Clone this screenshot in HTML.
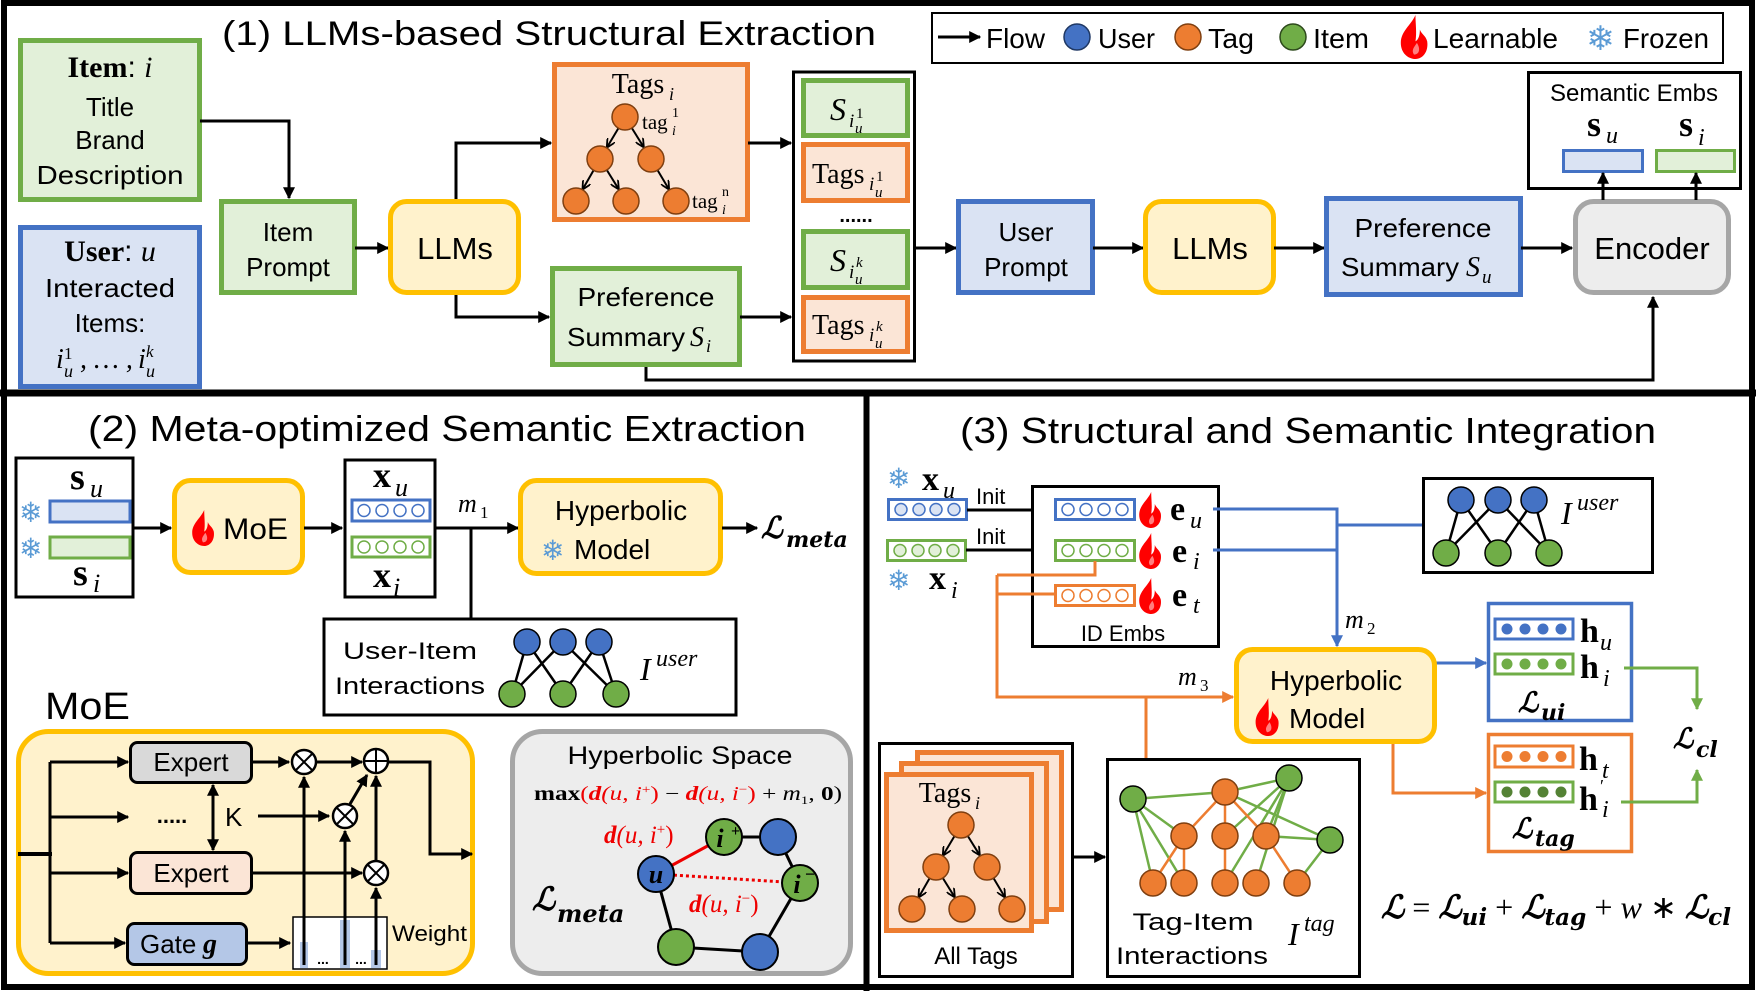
<!DOCTYPE html>
<html><head><meta charset="utf-8"><style>
html,body{margin:0;padding:0;background:#fff;}
svg{display:block;}
.s{font-family:"Liberation Sans",sans-serif;fill:#000;}
.m{font-family:"Liberation Serif",serif;font-style:italic;fill:#000;}
.mb{font-family:"Liberation Serif",serif;font-weight:bold;fill:#000;}
.L{font-family:"DejaVu Serif","Liberation Serif",serif;font-style:italic;font-weight:bold;fill:#000;}
.sn{font-family:"DejaVu Sans",sans-serif;fill:#5b9bd5;}
</style></head><body>
<svg width="1756" height="991" viewBox="0 0 1756 991" xmlns="http://www.w3.org/2000/svg">
<defs>
<marker id="ak" viewBox="0 0 10 10" refX="9" refY="5" markerWidth="12" markerHeight="12" markerUnits="userSpaceOnUse" orient="auto-start-reverse"><path d="M0,0L10,5L0,10z" fill="#000"/></marker>
<marker id="as" viewBox="0 0 10 10" refX="9" refY="5" markerWidth="9" markerHeight="9" markerUnits="userSpaceOnUse" orient="auto"><path d="M0,0L10,5L0,10" fill="none" stroke="#000" stroke-width="2"/></marker>
<marker id="ab" viewBox="0 0 10 10" refX="9" refY="5" markerWidth="12" markerHeight="12" markerUnits="userSpaceOnUse" orient="auto"><path d="M0,0L10,5L0,10z" fill="#4472c4"/></marker>
<marker id="ao" viewBox="0 0 10 10" refX="9" refY="5" markerWidth="12" markerHeight="12" markerUnits="userSpaceOnUse" orient="auto"><path d="M0,0L10,5L0,10z" fill="#ed7d31"/></marker>
<marker id="ag" viewBox="0 0 10 10" refX="9" refY="5" markerWidth="12" markerHeight="12" markerUnits="userSpaceOnUse" orient="auto"><path d="M0,0L10,5L0,10z" fill="#70ad47"/></marker>
<symbol id="fire" viewBox="-10 -15 20 30"><path d="M1,-15 C-2,-8 -9,-4 -9,4 C-9,11 -4,15 1,15 C6,15 10,10 9,3 C8,-1 5,-2 4,-5 C4,-1 3,2 1,3 C2,-3 1,-9 1,-15Z" fill="#ff0000"/><path d="M2,4 C0,7 -2,9 0,12 C3,12 5,9 2,4Z" fill="#fff" opacity="0.5"/></symbol>
<g id="tree">
 <g stroke="#000" stroke-width="2" fill="none" marker-end="url(#as)">
  <line x1="-6.6" y1="11.2" x2="-17.8" y2="30"/>
  <line x1="6.8" y1="11" x2="18.4" y2="29.7"/>
  <line x1="-31.4" y1="53.3" x2="-42.1" y2="71.9"/>
  <line x1="-18.2" y1="53" x2="-6.6" y2="71.7"/>
  <line x1="32.6" y1="53.2" x2="43.7" y2="71.9"/>
 </g>
 <g fill="#ed7d31" stroke="#7f3f10" stroke-width="1.5">
  <circle cx="0" cy="0" r="13"/><circle cx="-25" cy="42" r="13"/><circle cx="26" cy="42" r="13"/>
  <circle cx="-49" cy="84" r="13"/><circle cx="1" cy="84" r="13"/><circle cx="51" cy="84" r="13"/>
 </g>
</g>
</defs>

<rect x="4" y="3" width="1748" height="984" fill="#fff" stroke="#000" stroke-width="6"/>
<line x1="0" y1="393" x2="1756" y2="393" stroke="#000" stroke-width="7"/>
<line x1="866.5" y1="393" x2="866.5" y2="991" stroke="#000" stroke-width="6"/>

<!-- ============ PANEL 1 ============ -->
<text class="s" x="222" y="45" font-size="34" textLength="654" lengthAdjust="spacingAndGlyphs">(1) LLMs-based Structural Extraction</text>

<rect x="932" y="13" width="791" height="50" fill="#fff" stroke="#000" stroke-width="2"/>
<line x1="938" y1="37" x2="980" y2="37" stroke="#000" stroke-width="3" marker-end="url(#ak)"/>
<text class="s" x="986" y="48" font-size="28" textLength="59" lengthAdjust="spacingAndGlyphs">Flow</text>
<circle cx="1077" cy="37" r="13" fill="#4472c4" stroke="#1f3864" stroke-width="1.5"/>
<text class="s" x="1098" y="48" font-size="28" textLength="57" lengthAdjust="spacingAndGlyphs">User</text>
<circle cx="1188" cy="37" r="13" fill="#ed7d31" stroke="#7f3f10" stroke-width="1.5"/>
<text class="s" x="1208" y="48" font-size="28" textLength="46" lengthAdjust="spacingAndGlyphs">Tag</text>
<circle cx="1293" cy="37" r="13" fill="#70ad47" stroke="#2d4a1c" stroke-width="1.5"/>
<text class="s" x="1313" y="48" font-size="28" textLength="56" lengthAdjust="spacingAndGlyphs">Item</text>
<use href="#fire" x="1399" y="15" width="30" height="44"/>
<text class="s" x="1433" y="48" font-size="28" textLength="125" lengthAdjust="spacingAndGlyphs">Learnable</text>
<text class="sn" x="1586" y="50" font-size="34">❄</text>
<text class="s" x="1623" y="48" font-size="28" textLength="86" lengthAdjust="spacingAndGlyphs">Frozen</text>

<rect x="20.5" y="40.5" width="179" height="159" fill="#e2f0d9" stroke="#70ad47" stroke-width="5"/>
<text x="110" y="77" text-anchor="middle" font-size="30"><tspan class="mb">Item</tspan><tspan class="s">:  </tspan><tspan class="m">i</tspan></text>
<text class="s" x="110" y="116" text-anchor="middle" font-size="26">Title</text>
<text class="s" x="110" y="149" text-anchor="middle" font-size="26">Brand</text>
<text class="s" x="110" y="184" text-anchor="middle" font-size="26" textLength="147" lengthAdjust="spacingAndGlyphs">Description</text>
<rect x="20.5" y="227.5" width="179" height="159" fill="#dae3f3" stroke="#4472c4" stroke-width="5"/>
<text x="110" y="261" text-anchor="middle" font-size="30"><tspan class="mb">User</tspan><tspan class="s">: </tspan><tspan class="m">u</tspan></text>
<text class="s" x="110" y="297" text-anchor="middle" font-size="26" textLength="130" lengthAdjust="spacingAndGlyphs">Interacted</text>
<text class="s" x="110" y="332" text-anchor="middle" font-size="26">Items:</text>
<text class="m" x="56" y="368" font-size="28">i</text><text class="m" x="64" y="359" font-size="17" style="font-style:normal">1</text><text class="m" x="64" y="377" font-size="18">u</text>
<text class="m" x="80" y="368" font-size="28">, … ,</text>
<text class="m" x="138" y="368" font-size="28">i</text><text class="m" x="146" y="357" font-size="17">k</text><text class="m" x="146" y="377" font-size="18">u</text>

<rect x="221.5" y="201.5" width="133" height="91" fill="#e2f0d9" stroke="#70ad47" stroke-width="5"/>
<text class="s" x="288" y="241" text-anchor="middle" font-size="26">Item</text>
<text class="s" x="288" y="276" text-anchor="middle" font-size="26">Prompt</text>
<polyline points="200,121 289,121 289,198" fill="none" stroke="#000" stroke-width="3" marker-end="url(#ak)"/>
<line x1="355" y1="248" x2="388" y2="248" stroke="#000" stroke-width="3" marker-end="url(#ak)"/>
<rect x="390.5" y="201.5" width="128" height="91" rx="16" fill="#fff2cc" stroke="#ffc000" stroke-width="5"/>
<text class="s" x="455" y="259" text-anchor="middle" font-size="31">LLMs</text>
<polyline points="456,199 456,143 551,143" fill="none" stroke="#000" stroke-width="3" marker-end="url(#ak)"/>
<polyline points="456,295 456,317 549,317" fill="none" stroke="#000" stroke-width="3" marker-end="url(#ak)"/>
<rect x="554.5" y="64.5" width="193" height="155" fill="#fbe5d6" stroke="#ed7d31" stroke-width="5"/>
<text class="m" x="638" y="93" text-anchor="middle" font-size="28" style="font-style:normal">Tags</text><text class="m" x="669" y="100" font-size="18">i</text>
<use href="#tree" x="625" y="117"/>
<text class="m" x="642" y="129" font-size="21" style="font-style:normal">tag</text><text class="m" x="672" y="135" font-size="14">i</text><text class="m" x="672" y="117" font-size="14" style="font-style:normal">1</text>
<text class="m" x="692" y="208" font-size="21" style="font-style:normal">tag</text><text class="m" x="722" y="214" font-size="14">i</text><text class="m" x="722" y="196" font-size="14" style="font-style:normal">n</text>
<rect x="552.5" y="268.5" width="187" height="96" fill="#e2f0d9" stroke="#70ad47" stroke-width="5"/>
<text class="s" x="646" y="306" text-anchor="middle" font-size="26" textLength="137" lengthAdjust="spacingAndGlyphs">Preference</text>
<text class="s" x="567" y="346" font-size="26" textLength="118" lengthAdjust="spacingAndGlyphs">Summary</text><text class="m" x="690" y="346" font-size="28">S</text><text class="m" x="706" y="352" font-size="18">i</text>
<line x1="748" y1="143" x2="791" y2="143" stroke="#000" stroke-width="3" marker-end="url(#ak)"/>
<line x1="740" y1="317" x2="791" y2="317" stroke="#000" stroke-width="3" marker-end="url(#ak)"/>
<rect x="793.5" y="72" width="121" height="289" fill="#fff" stroke="#000" stroke-width="3"/>
<rect x="803.5" y="80.5" width="104" height="55" fill="#e2f0d9" stroke="#70ad47" stroke-width="5"/>
<rect x="803.5" y="144.5" width="104" height="56" fill="#fbe5d6" stroke="#ed7d31" stroke-width="5"/>
<rect x="803.5" y="231.5" width="104" height="56" fill="#e2f0d9" stroke="#70ad47" stroke-width="5"/>
<rect x="803.5" y="297.5" width="104" height="54" fill="#fbe5d6" stroke="#ed7d31" stroke-width="5"/>
<text class="m" x="830" y="120" font-size="32">S</text><text class="m" x="849" y="127" font-size="19">i</text><text class="m" x="856" y="118" font-size="15" style="font-style:normal">1</text><text class="m" x="855" y="133" font-size="15">u</text>
<text class="m" x="812" y="183" font-size="28" style="font-style:normal">Tags</text><text class="m" x="869" y="190" font-size="19">i</text><text class="m" x="876" y="181" font-size="15" style="font-style:normal">1</text><text class="m" x="875" y="197" font-size="15">u</text>
<text class="s" x="856" y="222" text-anchor="middle" font-size="20" font-weight="bold">......</text>
<text class="m" x="830" y="271" font-size="32">S</text><text class="m" x="849" y="278" font-size="19">i</text><text class="m" x="856" y="267" font-size="15">k</text><text class="m" x="855" y="284" font-size="15">u</text>
<text class="m" x="812" y="334" font-size="28" style="font-style:normal">Tags</text><text class="m" x="869" y="341" font-size="19">i</text><text class="m" x="876" y="331" font-size="15">k</text><text class="m" x="875" y="348" font-size="15">u</text>
<line x1="915" y1="248" x2="956" y2="248" stroke="#000" stroke-width="3" marker-end="url(#ak)"/>
<rect x="958.5" y="201.5" width="134" height="91" fill="#dae3f3" stroke="#4472c4" stroke-width="5"/>
<text class="s" x="1026" y="241" text-anchor="middle" font-size="26">User</text>
<text class="s" x="1026" y="276" text-anchor="middle" font-size="26">Prompt</text>
<line x1="1093" y1="248" x2="1143" y2="248" stroke="#000" stroke-width="3" marker-end="url(#ak)"/>
<rect x="1145.5" y="201.5" width="128" height="91" rx="16" fill="#fff2cc" stroke="#ffc000" stroke-width="5"/>
<text class="s" x="1210" y="259" text-anchor="middle" font-size="31">LLMs</text>
<line x1="1274" y1="248" x2="1324" y2="248" stroke="#000" stroke-width="3" marker-end="url(#ak)"/>
<rect x="1326.5" y="198.5" width="194" height="96" fill="#dae3f3" stroke="#4472c4" stroke-width="5"/>
<text class="s" x="1423" y="237" text-anchor="middle" font-size="26" textLength="137" lengthAdjust="spacingAndGlyphs">Preference</text>
<text class="s" x="1341" y="276" font-size="26" textLength="118" lengthAdjust="spacingAndGlyphs">Summary</text><text class="m" x="1466" y="276" font-size="28">S</text><text class="m" x="1482" y="283" font-size="19">u</text>
<line x1="1521" y1="248" x2="1572" y2="248" stroke="#000" stroke-width="3" marker-end="url(#ak)"/>
<rect x="1575.5" y="201.5" width="153" height="91" rx="18" fill="#ededed" stroke="#a6a6a6" stroke-width="5"/>
<text class="s" x="1652" y="259" text-anchor="middle" font-size="31">Encoder</text>
<polyline points="646,367 646,380 1653,380 1653,297" fill="none" stroke="#000" stroke-width="3" marker-end="url(#ak)"/>
<rect x="1528.5" y="72.5" width="212" height="116" fill="#fff" stroke="#000" stroke-width="3"/>
<text class="s" x="1634" y="101" text-anchor="middle" font-size="24">Semantic Embs</text>
<text class="mb" x="1587" y="136" font-size="36">s</text><text class="m" x="1606" y="143" font-size="24">u</text>
<text class="mb" x="1679" y="136" font-size="36">s</text><text class="m" x="1698" y="145" font-size="24">i</text>
<rect x="1563.5" y="150.5" width="79" height="21" fill="#dae3f3" stroke="#4472c4" stroke-width="3"/>
<rect x="1656.5" y="150.5" width="78" height="21" fill="#e2f0d9" stroke="#70ad47" stroke-width="3"/>
<line x1="1603" y1="200" x2="1603" y2="173" stroke="#000" stroke-width="3" marker-end="url(#ak)"/>
<line x1="1696" y1="200" x2="1696" y2="173" stroke="#000" stroke-width="3" marker-end="url(#ak)"/>

<!-- ============ PANEL 2 ============ -->
<text class="s" x="88" y="441" font-size="36" textLength="718" lengthAdjust="spacingAndGlyphs">(2) Meta-optimized Semantic Extraction</text>
<rect x="16" y="458" width="117" height="139" fill="#fff" stroke="#000" stroke-width="3"/>
<text class="mb" x="70" y="489" font-size="38">s</text><text class="m" x="90" y="497" font-size="26">u</text>
<text class="sn" x="19" y="522" font-size="28">❄</text>
<text class="sn" x="19" y="558" font-size="28">❄</text>
<rect x="50" y="501" width="80" height="21" fill="#dae3f3" stroke="#4472c4" stroke-width="3"/>
<rect x="50" y="537" width="80" height="21" fill="#e2f0d9" stroke="#70ad47" stroke-width="3"/>
<text class="mb" x="73" y="585" font-size="38">s</text><text class="m" x="93" y="592" font-size="26">i</text>
<line x1="133" y1="528" x2="171" y2="528" stroke="#000" stroke-width="3" marker-end="url(#ak)"/>
<rect x="174.5" y="480.5" width="128" height="92" rx="16" fill="#fff2cc" stroke="#ffc000" stroke-width="5"/>
<use href="#fire" x="190" y="510" width="26" height="36"/>
<text class="s" x="223" y="539" font-size="30" textLength="65" lengthAdjust="spacingAndGlyphs">MoE</text>
<line x1="304" y1="528" x2="342" y2="528" stroke="#000" stroke-width="3" marker-end="url(#ak)"/>
<rect x="345" y="460" width="90" height="137" fill="#fff" stroke="#000" stroke-width="3"/>
<text class="mb" x="373" y="487" font-size="36">x</text><text class="m" x="395" y="496" font-size="26">u</text>
<rect x="352" y="500" width="78" height="21" fill="#fff" stroke="#4472c4" stroke-width="3"/>
<g fill="none" stroke="#4472c4" stroke-width="1.5"><circle cx="364" cy="510.5" r="6"/><circle cx="382" cy="510.5" r="6"/><circle cx="400" cy="510.5" r="6"/><circle cx="418" cy="510.5" r="6"/></g>
<rect x="352" y="537" width="78" height="20" fill="#fff" stroke="#70ad47" stroke-width="3"/>
<g fill="none" stroke="#70ad47" stroke-width="1.5"><circle cx="364" cy="547" r="6"/><circle cx="382" cy="547" r="6"/><circle cx="400" cy="547" r="6"/><circle cx="418" cy="547" r="6"/></g>
<text class="mb" x="373" y="587" font-size="36">x</text><text class="m" x="393" y="596" font-size="26">i</text>
<line x1="436" y1="528" x2="518" y2="528" stroke="#000" stroke-width="3" marker-end="url(#ak)"/>
<line x1="471" y1="528" x2="471" y2="619" stroke="#000" stroke-width="3"/>
<text class="m" x="458" y="512" font-size="26">m</text><text class="m" x="480" y="518" font-size="17" style="font-style:normal">1</text>
<rect x="520.5" y="480.5" width="200" height="93" rx="16" fill="#fff2cc" stroke="#ffc000" stroke-width="5"/>
<text class="s" x="621" y="520" text-anchor="middle" font-size="28">Hyperbolic</text>
<text class="sn" x="541" y="560" font-size="28">❄</text>
<text class="s" x="574" y="559" font-size="28">Model</text>
<line x1="722" y1="528" x2="757" y2="528" stroke="#000" stroke-width="3" marker-end="url(#ak)"/>
<text class="L" x="761" y="538" font-size="30">ℒ</text><text class="L" x="786" y="547" font-size="22">meta</text>
<rect x="324" y="619" width="412" height="96" fill="#fff" stroke="#000" stroke-width="3"/>
<text class="s" x="410" y="659" text-anchor="middle" font-size="24" textLength="134" lengthAdjust="spacingAndGlyphs">User-Item</text>
<text class="s" x="410" y="694" text-anchor="middle" font-size="24" textLength="150" lengthAdjust="spacingAndGlyphs">Interactions</text>
<g stroke="#000" stroke-width="2.5">
 <line x1="527" y1="642" x2="512" y2="694"/><line x1="527" y1="642" x2="563" y2="694"/>
 <line x1="563" y1="642" x2="512" y2="694"/><line x1="563" y1="642" x2="616" y2="694"/>
 <line x1="599" y1="642" x2="563" y2="694"/><line x1="599" y1="642" x2="616" y2="694"/>
</g>
<g fill="#4472c4" stroke="#000" stroke-width="1.5"><circle cx="527" cy="642" r="13"/><circle cx="563" cy="642" r="13"/><circle cx="599" cy="642" r="13"/></g>
<g fill="#70ad47" stroke="#000" stroke-width="1.5"><circle cx="512" cy="694" r="13"/><circle cx="563" cy="694" r="13"/><circle cx="616" cy="694" r="13"/></g>
<text class="m" x="640" y="680" font-size="32">I</text><text class="m" x="656" y="666" font-size="24">user</text>

<text class="s" x="45" y="719" font-size="38" textLength="85" lengthAdjust="spacingAndGlyphs">MoE</text>
<rect x="18.5" y="731.5" width="454" height="242" rx="30" fill="#fff2cc" stroke="#ffc000" stroke-width="5"/>
<g stroke="#000" stroke-width="3" fill="none">
 <line x1="18" y1="854" x2="52" y2="854" stroke-width="4"/>
 <line x1="50" y1="762" x2="50" y2="943"/>
 <line x1="50" y1="762" x2="128" y2="762" marker-end="url(#ak)"/>
 <line x1="50" y1="817" x2="128" y2="817" marker-end="url(#ak)"/>
 <line x1="50" y1="873" x2="128" y2="873" marker-end="url(#ak)"/>
 <line x1="50" y1="943" x2="125" y2="943" marker-end="url(#ak)"/>
 <line x1="213" y1="785" x2="213" y2="850" marker-end="url(#ak)" marker-start="url(#ak)"/>
 <line x1="252" y1="762" x2="289" y2="762" marker-end="url(#ak)"/>
 <line x1="316" y1="762" x2="362" y2="762" marker-end="url(#ak)"/>
 <line x1="258" y1="816" x2="329" y2="816" marker-end="url(#ak)"/>
 <line x1="350" y1="804" x2="367" y2="775" marker-end="url(#ak)"/>
 <line x1="252" y1="873" x2="362" y2="873" marker-end="url(#ak)"/>
 <line x1="376" y1="860" x2="376" y2="776" marker-end="url(#ak)"/>
 <polyline points="389,762 430,762 430,854 472,854" marker-end="url(#ak)"/>
 <line x1="247" y1="943" x2="290" y2="943" marker-end="url(#ak)"/>
</g>
<rect x="130.5" y="742.5" width="121" height="40" rx="7" fill="#d9d9d9" stroke="#000" stroke-width="3"/>
<text class="s" x="191" y="771" text-anchor="middle" font-size="26">Expert</text>
<rect x="130.5" y="852.5" width="121" height="41" rx="7" fill="#fbe5d6" stroke="#000" stroke-width="3"/>
<text class="s" x="191" y="882" text-anchor="middle" font-size="26">Expert</text>
<text class="s" x="172" y="823" text-anchor="middle" font-size="22" font-weight="bold">.....</text>
<text class="s" x="225" y="826" font-size="26">K</text>
<rect x="127.5" y="923.5" width="119" height="41" rx="7" fill="#b4c7e7" stroke="#000" stroke-width="3"/>
<text class="s" x="140" y="953" font-size="26">Gate</text><text class="m" x="203" y="953" font-size="28" font-weight="bold">g</text>
<rect x="293" y="917" width="94" height="52" fill="#fff" stroke="#000" stroke-width="1.5"/>
<rect x="300" y="942" width="8" height="26" fill="#b4c7e7"/>
<rect x="340" y="920" width="10" height="48" fill="#b4c7e7"/>
<rect x="371" y="950" width="10" height="18" fill="#b4c7e7"/>
<text class="s" x="323" y="964" text-anchor="middle" font-size="14" font-weight="bold">...</text>
<text class="s" x="361" y="964" text-anchor="middle" font-size="14" font-weight="bold">...</text>
<g stroke="#000" stroke-width="3">
 <line x1="304" y1="965" x2="304" y2="777" marker-end="url(#ak)"/>
 <line x1="345" y1="965" x2="345" y2="831" marker-end="url(#ak)"/>
 <line x1="376" y1="965" x2="376" y2="888" marker-end="url(#ak)"/>
</g>
<text class="s" x="392" y="941" font-size="22" textLength="75" lengthAdjust="spacingAndGlyphs">Weight</text>
<g fill="#fff" stroke="#000" stroke-width="2.5">
 <circle cx="304" cy="762" r="12"/><circle cx="345" cy="816" r="12"/><circle cx="376" cy="873" r="12"/><circle cx="376" cy="761" r="12"/>
</g>
<g stroke="#000" stroke-width="2">
 <path d="M295.5,753.5L312.5,770.5M312.5,753.5L295.5,770.5"/>
 <path d="M336.5,807.5L353.5,824.5M353.5,807.5L336.5,824.5"/>
 <path d="M367.5,864.5L384.5,881.5M384.5,864.5L367.5,881.5"/>
 <path d="M364,761H388M376,749V773"/>
</g>
<rect x="512.5" y="731.5" width="338" height="242" rx="30" fill="#ededed" stroke="#a6a6a6" stroke-width="5"/>
<text class="s" x="680" y="764" text-anchor="middle" font-size="25" textLength="225" lengthAdjust="spacingAndGlyphs">Hyperbolic Space</text>
<text x="534" y="800" font-size="20" font-family="Liberation Serif,serif" textLength="308" lengthAdjust="spacingAndGlyphs"><tspan font-weight="bold">max</tspan><tspan fill="#e00">(</tspan><tspan fill="#e00" font-weight="bold" font-style="italic">d</tspan><tspan fill="#e00" font-style="italic">(u, i</tspan><tspan fill="#e00" font-size="12" dy="-7">+</tspan><tspan fill="#e00" dy="7">)</tspan> − <tspan fill="#e00" font-weight="bold" font-style="italic">d</tspan><tspan fill="#e00" font-style="italic">(u, i</tspan><tspan fill="#e00" font-size="12" dy="-7">−</tspan><tspan fill="#e00" dy="7">)</tspan> + <tspan font-style="italic">m</tspan><tspan font-size="12" dy="4">1</tspan><tspan dy="-4">, </tspan><tspan font-weight="bold">0</tspan>)</text>
<g stroke="#000" stroke-width="3">
 <line x1="724" y1="837" x2="778" y2="837"/><line x1="778" y1="837" x2="800" y2="883"/>
 <line x1="800" y1="883" x2="760" y2="952"/><line x1="760" y1="952" x2="676" y2="947"/>
 <line x1="676" y1="947" x2="656" y2="874"/>
</g>
<line x1="656" y1="874" x2="724" y2="837" stroke="#e00" stroke-width="3"/>
<line x1="656" y1="874" x2="800" y2="883" stroke="#e00" stroke-width="3" stroke-dasharray="3,3"/>
<circle cx="656" cy="874" r="18" fill="#4472c4" stroke="#000" stroke-width="2"/>
<circle cx="724" cy="837" r="18" fill="#70ad47" stroke="#000" stroke-width="2"/>
<circle cx="778" cy="837" r="18" fill="#4472c4" stroke="#000" stroke-width="2"/>
<circle cx="800" cy="883" r="18" fill="#70ad47" stroke="#000" stroke-width="2"/>
<circle cx="676" cy="947" r="18" fill="#70ad47" stroke="#000" stroke-width="2"/>
<circle cx="760" cy="952" r="18" fill="#4472c4" stroke="#000" stroke-width="2"/>
<text class="m" x="656" y="883" text-anchor="middle" font-size="26" font-weight="bold">u</text>
<text class="m" x="720" y="847" text-anchor="middle" font-size="26" font-weight="bold">i</text><text class="m" x="731" y="836" font-size="16" font-weight="bold" style="font-style:normal">+</text>
<text class="m" x="797" y="893" text-anchor="middle" font-size="26" font-weight="bold">i</text><text class="m" x="805" y="880" font-size="18" font-weight="bold" style="font-style:normal">−</text>
<text x="604" y="843" font-size="25" font-family="Liberation Serif,serif" fill="#e00"><tspan font-weight="bold" font-style="italic">d</tspan><tspan font-style="italic">(u, i</tspan><tspan font-size="15" dy="-9">+</tspan><tspan dy="9">)</tspan></text>
<text x="689" y="912" font-size="25" font-family="Liberation Serif,serif" fill="#e00"><tspan font-weight="bold" font-style="italic">d</tspan><tspan font-style="italic">(u, i</tspan><tspan font-size="15" dy="-9">−</tspan><tspan dy="9">)</tspan></text>
<text class="L" x="532" y="910" font-size="32">ℒ</text><text class="L" x="557" y="922" font-size="24">meta</text>

<!-- ============ PANEL 3 ============ -->
<text class="s" x="960" y="443" font-size="36" textLength="696" lengthAdjust="spacingAndGlyphs">(3) Structural and Semantic Integration</text>
<text class="sn" x="887" y="488" font-size="28">❄</text>
<text class="mb" x="922" y="490" font-size="34">x</text><text class="m" x="943" y="498" font-size="24">u</text>
<rect x="888.5" y="499.5" width="78" height="20" fill="#fff" stroke="#4472c4" stroke-width="3"/>
<g fill="#dae3f3" stroke="#4472c4" stroke-width="1.5"><circle cx="901" cy="509.5" r="6"/><circle cx="919" cy="509.5" r="6"/><circle cx="936" cy="509.5" r="6"/><circle cx="954" cy="509.5" r="6"/></g>
<rect x="887.5" y="540.5" width="78" height="20" fill="#fff" stroke="#70ad47" stroke-width="3"/>
<g fill="#e2f0d9" stroke="#70ad47" stroke-width="1.5"><circle cx="900" cy="550.5" r="6"/><circle cx="918" cy="550.5" r="6"/><circle cx="935" cy="550.5" r="6"/><circle cx="953" cy="550.5" r="6"/></g>
<text class="sn" x="887" y="590" font-size="28">❄</text>
<text class="mb" x="929" y="589" font-size="34">x</text><text class="m" x="951" y="598" font-size="24">i</text>
<text class="s" x="976" y="504" font-size="22">Init</text>
<text class="s" x="976" y="544" font-size="22">Init</text>
<line x1="967" y1="510" x2="1053" y2="510" stroke="#000" stroke-width="3" marker-end="url(#ak)"/>
<line x1="966" y1="550" x2="1053" y2="550" stroke="#000" stroke-width="3" marker-end="url(#ak)"/>
<rect x="1032.5" y="486.5" width="186" height="160" fill="#fff" stroke="#000" stroke-width="3"/>
<rect x="1055.5" y="499.5" width="79" height="20" fill="#fff" stroke="#4472c4" stroke-width="3"/>
<g fill="none" stroke="#4472c4" stroke-width="1.5"><circle cx="1068" cy="509.5" r="6"/><circle cx="1086" cy="509.5" r="6"/><circle cx="1104" cy="509.5" r="6"/><circle cx="1122" cy="509.5" r="6"/></g>
<rect x="1055.5" y="540.5" width="79" height="20" fill="#fff" stroke="#70ad47" stroke-width="3"/>
<g fill="none" stroke="#70ad47" stroke-width="1.5"><circle cx="1068" cy="550.5" r="6"/><circle cx="1086" cy="550.5" r="6"/><circle cx="1104" cy="550.5" r="6"/><circle cx="1122" cy="550.5" r="6"/></g>
<rect x="1055.5" y="585.5" width="79" height="20" fill="#fff" stroke="#ed7d31" stroke-width="3"/>
<g fill="none" stroke="#ed7d31" stroke-width="1.5"><circle cx="1068" cy="595.5" r="6"/><circle cx="1086" cy="595.5" r="6"/><circle cx="1104" cy="595.5" r="6"/><circle cx="1122" cy="595.5" r="6"/></g>
<use href="#fire" x="1138" y="492" width="24" height="36"/>
<use href="#fire" x="1138" y="533" width="24" height="36"/>
<use href="#fire" x="1138" y="578" width="24" height="36"/>
<text class="mb" x="1170" y="520" font-size="34">e</text><text class="m" x="1190" y="528" font-size="24">u</text>
<text class="mb" x="1172" y="562" font-size="34">e</text><text class="m" x="1193" y="569" font-size="24">i</text>
<text class="mb" x="1172" y="606" font-size="34">e</text><text class="m" x="1193" y="613" font-size="24">t</text>
<text class="s" x="1123" y="641" text-anchor="middle" font-size="22">ID Embs</text>
<g stroke="#4472c4" stroke-width="3" fill="none">
 <polyline points="1213,509 1337,509 1337,646" marker-end="url(#ab)"/>
 <line x1="1213" y1="550" x2="1337" y2="550"/>
 <line x1="1337" y1="525" x2="1423" y2="525"/>
 <line x1="1436" y1="663" x2="1486" y2="663" marker-end="url(#ab)"/>
</g>
<text class="m" x="1345" y="628" font-size="26">m</text><text class="m" x="1367" y="634" font-size="17" style="font-style:normal">2</text>
<g stroke="#ed7d31" stroke-width="3" fill="none">
 <polyline points="1095,561 1095,575 997,575"/>
 <line x1="1055" y1="594" x2="997" y2="594"/>
 <polyline points="997,575 997,697 1233,697" marker-end="url(#ao)"/>
 <line x1="1146" y1="697" x2="1146" y2="758"/>
 <polyline points="1393,743 1393,793 1486,793" marker-end="url(#ao)"/>
</g>
<text class="m" x="1178" y="685" font-size="26">m</text><text class="m" x="1200" y="691" font-size="17" style="font-style:normal">3</text>
<rect x="1236.5" y="649.5" width="198" height="92" rx="16" fill="#fff2cc" stroke="#ffc000" stroke-width="5"/>
<text class="s" x="1336" y="690" text-anchor="middle" font-size="28">Hyperbolic</text>
<use href="#fire" x="1254" y="698" width="26" height="38"/>
<text class="s" x="1289" y="728" font-size="28">Model</text>
<rect x="1423.5" y="478.5" width="229" height="94" fill="#fff" stroke="#000" stroke-width="3"/>
<g stroke="#000" stroke-width="2.5">
 <line x1="1461" y1="500" x2="1446" y2="553"/><line x1="1461" y1="500" x2="1498" y2="553"/>
 <line x1="1498" y1="500" x2="1446" y2="553"/><line x1="1498" y1="500" x2="1549" y2="553"/>
 <line x1="1534" y1="500" x2="1498" y2="553"/><line x1="1534" y1="500" x2="1549" y2="553"/>
</g>
<g fill="#4472c4" stroke="#000" stroke-width="1.5"><circle cx="1461" cy="500" r="13"/><circle cx="1498" cy="500" r="13"/><circle cx="1534" cy="500" r="13"/></g>
<g fill="#70ad47" stroke="#000" stroke-width="1.5"><circle cx="1446" cy="553" r="13"/><circle cx="1498" cy="553" r="13"/><circle cx="1549" cy="553" r="13"/></g>
<text class="m" x="1561" y="524" font-size="32">I</text><text class="m" x="1577" y="510" font-size="24">user</text>
<rect x="1488.5" y="603.5" width="143" height="117" fill="#fff" stroke="#4472c4" stroke-width="3.5"/>
<rect x="1495" y="619" width="78" height="20" fill="#fff" stroke="#4472c4" stroke-width="3"/>
<g fill="#4472c4"><circle cx="1507" cy="629" r="5.5"/><circle cx="1525" cy="629" r="5.5"/><circle cx="1543" cy="629" r="5.5"/><circle cx="1561" cy="629" r="5.5"/></g>
<rect x="1495" y="654" width="78" height="20" fill="#fff" stroke="#70ad47" stroke-width="3"/>
<g fill="#70ad47"><circle cx="1507" cy="664" r="5.5"/><circle cx="1525" cy="664" r="5.5"/><circle cx="1543" cy="664" r="5.5"/><circle cx="1561" cy="664" r="5.5"/></g>
<text class="mb" x="1580" y="642" font-size="34">h</text><text class="m" x="1600" y="650" font-size="24">u</text>
<text class="mb" x="1580" y="678" font-size="34">h</text><text class="m" x="1603" y="686" font-size="24">i</text>
<text class="L" x="1518" y="712" font-size="28">ℒ</text><text class="L" x="1541" y="720" font-size="22">ui</text>
<rect x="1488.5" y="734.5" width="143" height="117" fill="#fff" stroke="#ed7d31" stroke-width="3.5"/>
<rect x="1495" y="746" width="78" height="21" fill="#fff" stroke="#ed7d31" stroke-width="3"/>
<g fill="#ed7d31"><circle cx="1507" cy="756.5" r="5.5"/><circle cx="1525" cy="756.5" r="5.5"/><circle cx="1543" cy="756.5" r="5.5"/><circle cx="1561" cy="756.5" r="5.5"/></g>
<rect x="1495" y="782" width="78" height="20" fill="#fff" stroke="#70ad47" stroke-width="3"/>
<g fill="#548235"><circle cx="1507" cy="792" r="5.5"/><circle cx="1525" cy="792" r="5.5"/><circle cx="1543" cy="792" r="5.5"/><circle cx="1561" cy="792" r="5.5"/></g>
<text class="mb" x="1579" y="770" font-size="34">h</text><text class="m" x="1602" y="778" font-size="24">t</text>
<text class="mb" x="1579" y="810" font-size="34">h</text><text class="m" x="1600" y="792" font-size="18" style="font-style:normal">′</text><text class="m" x="1602" y="817" font-size="24">i</text>
<text class="L" x="1512" y="838" font-size="28">ℒ</text><text class="L" x="1535" y="846" font-size="22">tag</text>
<g stroke="#70ad47" stroke-width="3" fill="none">
 <polyline points="1624,668 1697,668 1697,709" marker-end="url(#ag)"/>
 <polyline points="1621,802 1697,802 1697,770" marker-end="url(#ag)"/>
</g>
<text class="L" x="1673" y="748" font-size="28">ℒ</text><text class="L" x="1696" y="757" font-size="22">cl</text>
<rect x="879.5" y="743.5" width="193" height="233" fill="#fff" stroke="#000" stroke-width="3"/>
<rect x="917.5" y="752.5" width="144" height="157" fill="#fbe5d6" stroke="#ed7d31" stroke-width="5"/>
<rect x="901.5" y="763.5" width="145" height="158" fill="#fbe5d6" stroke="#ed7d31" stroke-width="5"/>
<rect x="886.5" y="774.5" width="145" height="156" fill="#fbe5d6" stroke="#ed7d31" stroke-width="5"/>
<text class="m" x="945" y="802" text-anchor="middle" font-size="28" style="font-style:normal">Tags</text><text class="m" x="975" y="809" font-size="18">i</text>
<use href="#tree" x="961" y="825"/>
<text class="s" x="976" y="964" text-anchor="middle" font-size="24">All Tags</text>
<line x1="1073" y1="857" x2="1105" y2="857" stroke="#000" stroke-width="3" marker-end="url(#ak)"/>
<rect x="1107.5" y="759.5" width="252" height="217" fill="#fff" stroke="#000" stroke-width="3"/>
<g stroke="#70ad47" stroke-width="2.5">
 <line x1="1133" y1="799" x2="1225" y2="792"/><line x1="1133" y1="799" x2="1184" y2="836"/>
 <line x1="1133" y1="799" x2="1153" y2="883"/><line x1="1133" y1="799" x2="1184" y2="883"/>
 <line x1="1289" y1="778" x2="1225" y2="792"/><line x1="1289" y1="778" x2="1225" y2="836"/>
 <line x1="1289" y1="778" x2="1266" y2="836"/><line x1="1289" y1="778" x2="1225" y2="883"/>
 <line x1="1289" y1="778" x2="1256" y2="883"/>
 <line x1="1330" y1="840" x2="1266" y2="836"/><line x1="1330" y1="840" x2="1225" y2="792"/>
 <line x1="1330" y1="840" x2="1297" y2="883"/>
</g>
<g stroke="#ed7d31" stroke-width="2.5">
 <line x1="1225" y1="792" x2="1184" y2="836"/><line x1="1225" y1="792" x2="1225" y2="836"/><line x1="1225" y1="792" x2="1266" y2="836"/>
 <line x1="1184" y1="836" x2="1153" y2="883"/><line x1="1184" y1="836" x2="1184" y2="883"/>
 <line x1="1225" y1="836" x2="1225" y2="883"/><line x1="1266" y1="836" x2="1297" y2="883"/>
</g>
<g fill="#70ad47" stroke="#000" stroke-width="1.5"><circle cx="1133" cy="799" r="13"/><circle cx="1289" cy="778" r="13"/><circle cx="1330" cy="840" r="13"/></g>
<g fill="#ed7d31" stroke="#7f3f10" stroke-width="1.5">
 <circle cx="1225" cy="792" r="13"/><circle cx="1184" cy="836" r="13"/><circle cx="1225" cy="836" r="13"/><circle cx="1266" cy="836" r="13"/>
 <circle cx="1153" cy="883" r="13"/><circle cx="1184" cy="883" r="13"/><circle cx="1225" cy="883" r="13"/><circle cx="1256" cy="883" r="13"/><circle cx="1297" cy="883" r="13"/>
</g>
<text class="s" x="1193" y="930" text-anchor="middle" font-size="24" textLength="121" lengthAdjust="spacingAndGlyphs">Tag-Item</text>
<text class="s" x="1192" y="964" text-anchor="middle" font-size="24" textLength="152" lengthAdjust="spacingAndGlyphs">Interactions</text>
<text class="m" x="1288" y="945" font-size="32">I</text><text class="m" x="1304" y="931" font-size="24">tag</text>
<text x="1381" y="918" font-size="32" font-family="DejaVu Serif,Liberation Serif,serif" textLength="350" lengthAdjust="spacingAndGlyphs"><tspan class="L">ℒ</tspan><tspan font-family="Liberation Serif,serif"> = </tspan><tspan class="L">ℒ</tspan><tspan class="L" font-size="23" dy="7">ui</tspan><tspan font-family="Liberation Serif,serif" dy="-7"> + </tspan><tspan class="L">ℒ</tspan><tspan class="L" font-size="23" dy="7">tag</tspan><tspan font-family="Liberation Serif,serif" dy="-7"> + </tspan><tspan font-family="Liberation Serif,serif" font-style="italic">w</tspan><tspan font-family="Liberation Serif,serif"> ∗ </tspan><tspan class="L">ℒ</tspan><tspan class="L" font-size="23" dy="7">cl</tspan></text>
</svg>
</body></html>
